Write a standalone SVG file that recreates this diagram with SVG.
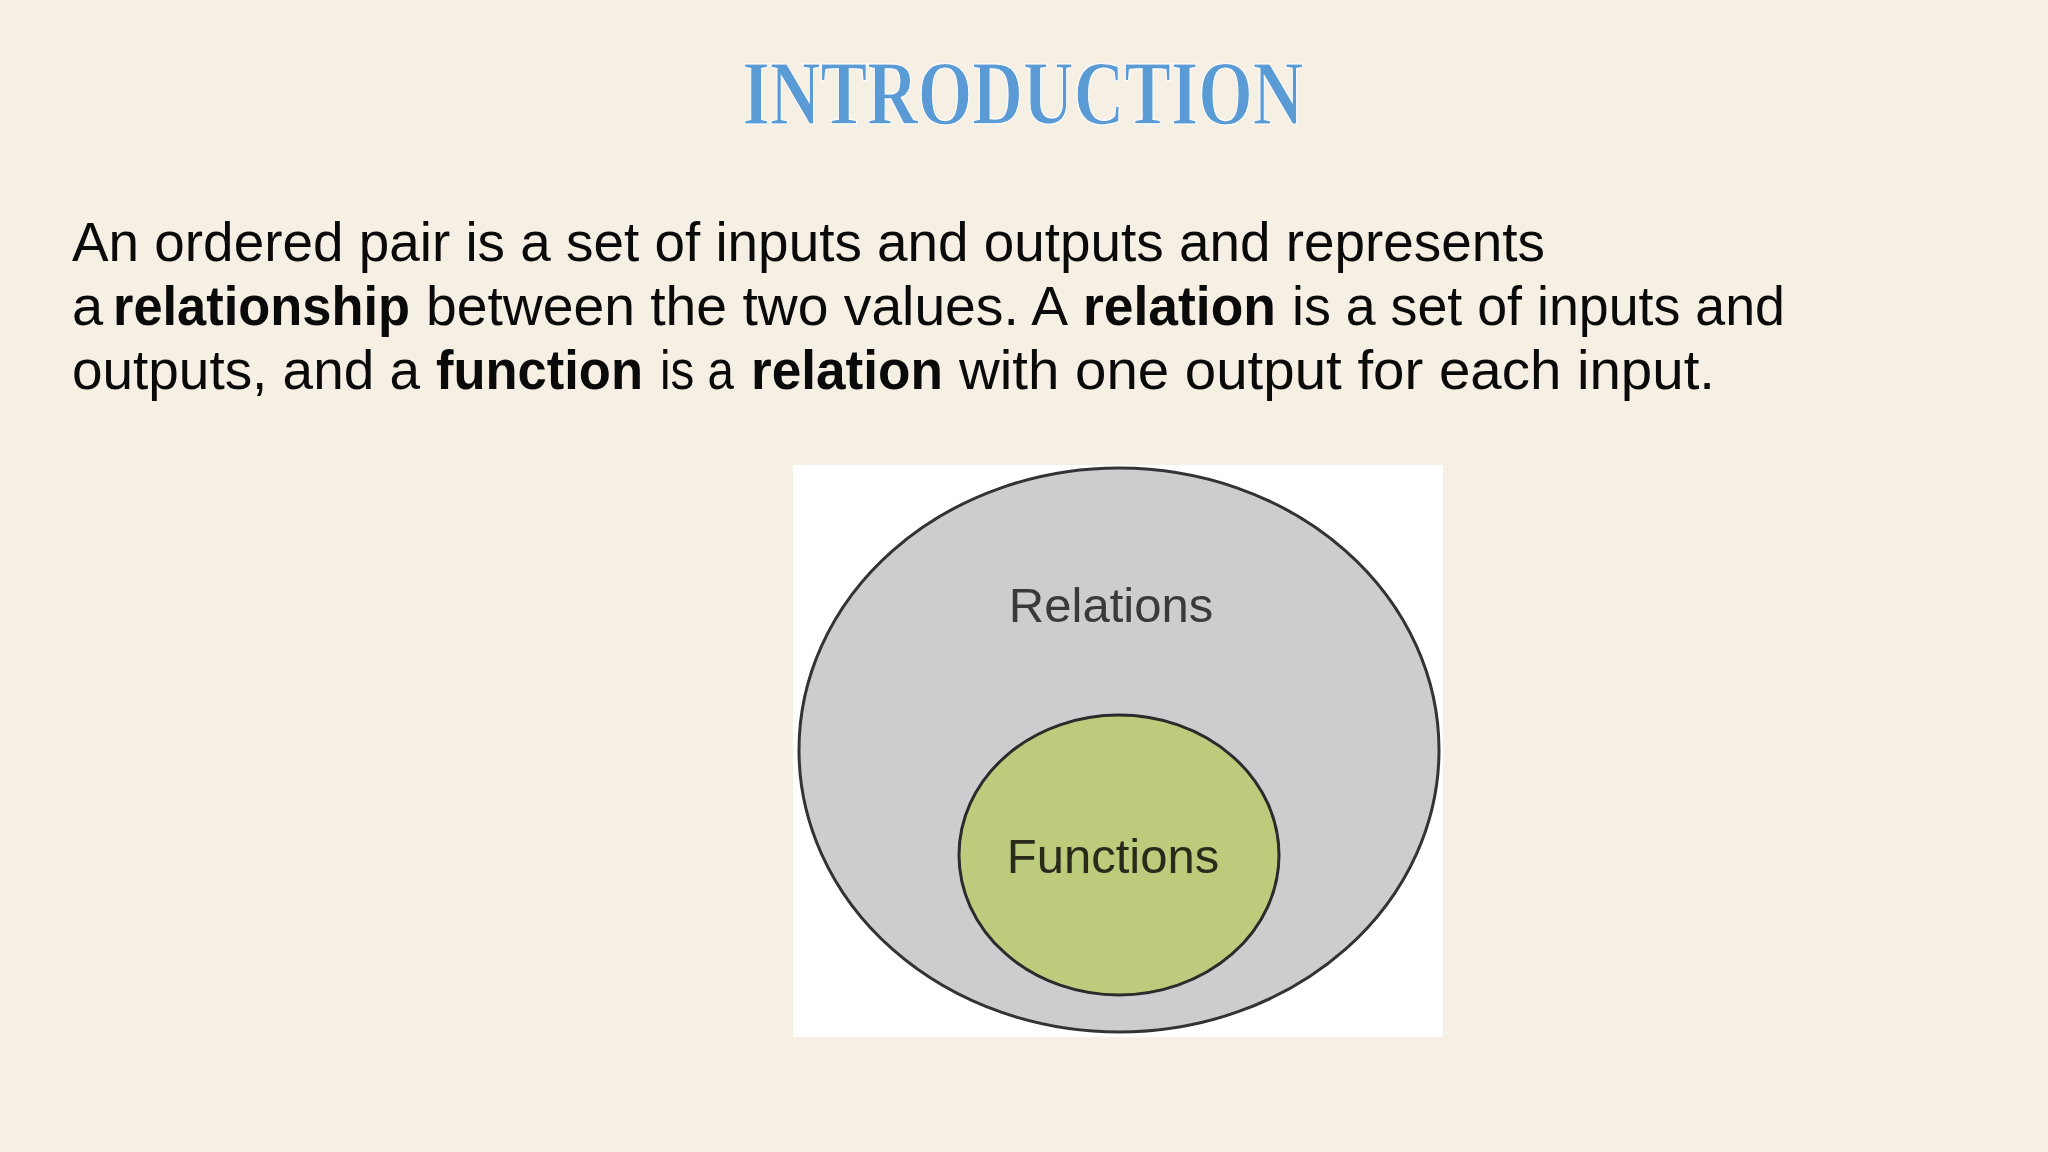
<svg xmlns="http://www.w3.org/2000/svg" width="2048" height="1152" viewBox="0 0 2048 1152">
<style>
.body{font-family:"Liberation Sans",Arial,sans-serif;font-size:56px;fill:#0a0a0a}
.b{font-weight:bold}
.lbl{font-family:"Liberation Sans",Arial,sans-serif;font-size:49px;text-anchor:middle}
</style>
<rect x="0" y="0" width="2048" height="1152" fill="#f6efe3"/>
<g id="title">
<text x="1023" y="124" text-anchor="middle" textLength="561" lengthAdjust="spacingAndGlyphs" font-family="'Liberation Serif',serif" font-weight="bold" font-size="92" fill="#5b9bd5" stroke="#ffffff" stroke-width="1.2">INTRODUCTION</text>
</g>
<g id="paragraph">
<text class="body" x="72" y="261" textLength="1473" lengthAdjust="spacingAndGlyphs">An ordered pair is a set of inputs and outputs and represents</text>
<text class="body" x="72" y="325">a</text>
<text class="body b" x="113" y="325" textLength="297" lengthAdjust="spacingAndGlyphs">relationship</text>
<text class="body" x="426" y="325" textLength="642" lengthAdjust="spacingAndGlyphs">between the two values. A</text>
<text class="body b" x="1083" y="325" textLength="193" lengthAdjust="spacingAndGlyphs">relation</text>
<text class="body" x="1292" y="325" textLength="493" lengthAdjust="spacingAndGlyphs">is a set of inputs and</text>
<text class="body" x="72" y="389" textLength="348" lengthAdjust="spacingAndGlyphs">outputs, and a</text>
<text class="body b" x="436" y="389" textLength="207" lengthAdjust="spacingAndGlyphs">function</text>
<text class="body" x="660" y="389" textLength="74" lengthAdjust="spacingAndGlyphs">is a</text>
<text class="body b" x="751" y="389" textLength="192" lengthAdjust="spacingAndGlyphs">relation</text>
<text class="body" x="959" y="389" textLength="756" lengthAdjust="spacingAndGlyphs">with one output for each input.</text>
</g>
<g id="diagram">
<rect x="793" y="465" width="650" height="572" fill="#ffffff"/>
<g id="relations">
<ellipse cx="1119" cy="750" rx="320" ry="282" fill="#cdcdcf" stroke="#333333" stroke-width="3"/>
<text class="lbl" x="1111" y="622" fill="#3a3a3a">Relations</text>
</g>
<g id="functions">
<ellipse cx="1119" cy="855" rx="160" ry="140" fill="#bdcb7c" stroke="#2b2b2b" stroke-width="3"/>
<text class="lbl" x="1113" y="873" fill="#2a2a1a">Functions</text>
</g>
</g>
<g id="connectors"></g>
</svg>
